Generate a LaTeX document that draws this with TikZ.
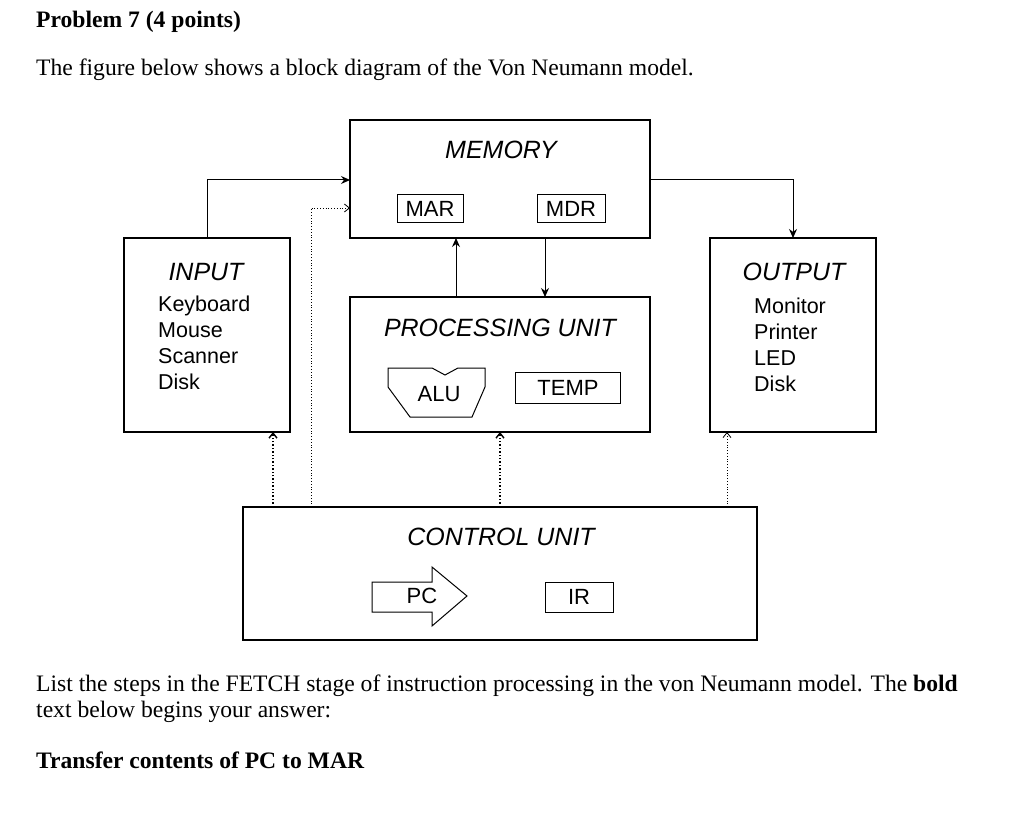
\documentclass[tikz,border=0pt]{standalone}
\usepackage{fontspec}
\setmainfont{Liberation Serif}
\newfontfamily\diag{Liberation Sans}
\usetikzlibrary{arrows.meta}
\begin{document}
\begin{tikzpicture}[x=1pt,y=-1pt,
  box/.style={draw,line width=1.2pt},
  reg/.style={draw,line width=1pt,font=\diag\fontsize{22}{22}\selectfont,inner sep=0pt},
  ttl/.style={font=\diag\itshape\fontsize{25}{25}\selectfont,inner sep=0pt},
  lst/.style={font=\diag\fontsize{21.5}{26}\selectfont,align=left,anchor=north west,inner sep=0pt},
  q/.style={font=\fontsize{23.6}{26}\selectfont,anchor=west,inner sep=0pt},
  arr/.style={-{Stealth[length=9pt,width=8pt]},line width=1pt},
  darr/.style={-{Straight Barb[length=5pt,width=8pt]},dotted,line width=1.4pt},
  larr/.style={-{Straight Barb[length=5pt,width=8pt]},dotted,line width=0.8pt}]
\useasboundingbox (0,0) rectangle (1024,834);
\node[q,font=\bfseries\fontsize{23.6}{26}\selectfont] (h) at (36,22) {Problem 7 (4 points)};
\node[q] (h2) at (36,70) {The figure below shows a block diagram of the Von Neumann model.};
\node[q,align=left,anchor=north west] (t) at (36,675) {List the steps in the FETCH stage of instruction processing in the von Neumann model. The \textbf{bold}\\text below begins your answer:};
\node[q,font=\bfseries\fontsize{23.6}{26}\selectfont] (t2) at (36,760) {Transfer contents of PC to MAR};

\draw[box] (350,120) rectangle (650,238);
\node[ttl] (memt) at (501,150) {MEMORY};
\node[reg,minimum width=66pt,minimum height=28pt] (mar) at (430,209) {MAR};
\node[reg,minimum width=68pt,minimum height=28pt] (mdr) at (571,209) {MDR};

\draw[box] (124,238) rectangle (290,432);
\node[ttl] (int) at (206,272) {INPUT};
\node[lst] (inl) at (158,296) {Keyboard\\Mouse\\Scanner\\Disk};

\draw[box] (710,238) rectangle (876,432);
\node[ttl] (outt) at (794,272) {OUTPUT};
\node[lst] (outl) at (754,298) {Monitor\\Printer\\LED\\Disk};

\draw[box] (350,297) rectangle (650,432);
\node[ttl] (pu) at (500,328) {PROCESSING UNIT};
\draw[line width=1pt] (388,368) -- (432,368) -- (445,375) -- (458,368) -- (485,368) -- (485,387) -- (472,417) -- (410,417) -- (388,387) -- cycle;
\node[reg,draw=none] (alu) at (439,394) {ALU};
\node[reg,minimum width=105pt,minimum height=31pt] (temp) at (568,388) {TEMP};

\draw[box] (243,507) rectangle (757,640);
\node[ttl] (cu) at (501,537) {CONTROL UNIT};
\draw[line width=1pt] (372,582) -- (432,582) -- (432,567) -- (467,596) -- (432,626) -- (432,612) -- (372,612) -- cycle;
\node[reg,draw=none] (pc) at (422,596) {PC};
\node[reg,minimum width=68pt,minimum height=30pt] (ir) at (579,597) {IR};

\draw[arr] (207,238) -- (207,180) -- (350,180);
\draw[arr] (650,180) -- (793,180) -- (793,238);
\draw[arr] (456,297) -- (456,238);
\draw[arr] (545,238) -- (545,297);

\draw[darr] (273,507) -- (273,432);
\draw[darr] (500,507) -- (500,432);
\draw[larr] (727,507) -- (727,432);
\draw[larr] (311,507) -- (311,208) -- (350,208);
\end{tikzpicture}
\end{document}
